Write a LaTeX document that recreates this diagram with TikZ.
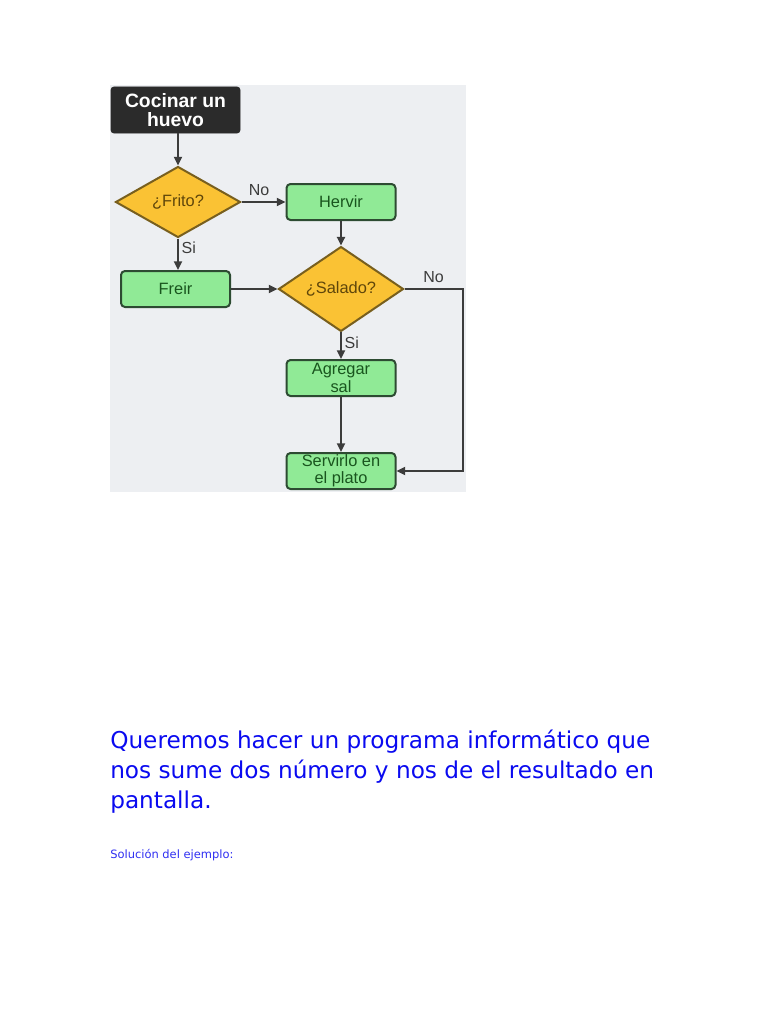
\documentclass[tikz,border=0pt]{standalone}
\definecolor{panelgray}{RGB}{237, 239, 242}
\definecolor{startblack}{RGB}{43, 43, 43}
\definecolor{stepgreen}{RGB}{144, 234, 150}
\definecolor{stepborder}{RGB}{45, 75, 50}
\definecolor{steptext}{RGB}{25, 85, 30}
\definecolor{askyellow}{RGB}{250, 194, 52}
\definecolor{askborder}{RGB}{120, 95, 30}
\definecolor{asktext}{RGB}{95, 70, 10}
\definecolor{linegray}{RGB}{60, 60, 60}
\definecolor{textblue}{RGB}{10, 10, 240}
\usepackage{fontspec}
\setmainfont{Liberation Sans}
\newfontfamily\notefont{DejaVu Sans}
\usepackage{tikz}
\usetikzlibrary{shapes.geometric, arrows.meta, positioning}

\begin{document}
\begin{tikzpicture}[x=0.75pt, y=-0.75pt,
  startbox/.style={rectangle, rounded corners=2pt, fill=startblack, draw=startblack, text=white,
    minimum width=96.75pt, minimum height=34.5pt, inner sep=1pt, align=center,
    font=\bfseries\fontsize{14.5}{14.5}\selectfont},
  stepbox/.style={rectangle, rounded corners=3pt, fill=stepgreen, draw=stepborder, line width=1.5pt,
    minimum width=81.75pt, minimum height=27pt, inner sep=1pt, align=center, text=steptext,
    font=\fontsize{12.3}{13}\selectfont},
  askbox/.style={diamond, fill=askyellow, draw=askborder, line width=1.5pt,
    minimum width=93.75pt, minimum height=53.25pt, inner sep=0pt, text=asktext,
    font=\fontsize{12.3}{13}\selectfont},
  flow/.style={draw=linegray, line width=1.5pt, -{Triangle[length=6.5pt, width=6pt]}},
  answer/.style={text=linegray, font=\fontsize{12}{12}\selectfont, inner sep=2pt}]
  \useasboundingbox (0,0) rectangle (768,1024);
  \fill[white] (0,0) rectangle (768,1024);

  % Flowchart panel
  \fill[panelgray] (110,85) rectangle (466,492);

  \node[startbox] (start) at (175.5,110) {Cocinar un\\huevo};
  \node[askbox] (frito) at (178,202) {¿Frito?};
  \node[stepbox] (hervir) at (341,202) {Hervir};
  \node[stepbox] (freir) at (175.5,289) {Freir};
  \node[askbox] (salado) at (341,289) {¿Salado?};
  \node[stepbox] (agregar) at (341,378) {Agregar\\sal};
  \node[stepbox] (servir) at (341,471) {Servirlo en\\el plato};

  % Connectors
  \draw[flow] (start.south -| frito.north) -- (frito.north);
  \draw[flow] (frito.east) -- node[answer, above, yshift=2pt, pos=0.4] {No} (hervir.west);
  \draw[flow] (frito.south) -- node[answer, right, pos=0.3] {Si} (frito.south |- freir.north);
  \draw[flow] (hervir.south) -- (salado.north);
  \draw[flow] (freir.east) -- (salado.west);
  \draw[flow] (salado.south) -- node[answer, right, pos=0.4] {Si} (agregar.north);
  \draw[flow] (agregar.south) -- (servir.north);
  \draw[flow] (salado.east) -- node[answer, above, yshift=2pt] {No} ++(58,0) |- (servir.east);

  % Text below
  \node[anchor=base west, inner sep=0pt, align=left, text=textblue,
    font=\notefont\fontsize{17.4}{22.5}\selectfont] (problema) at (110,808)
    {Queremos hacer un programa informático que\\nos sume dos número y nos de el resultado en\\pantalla.};
  \node[anchor=base west, inner sep=0pt, text=textblue!85,
    font=\notefont\fontsize{8.6}{10}\selectfont] (solucion) at (110,858) {Solución del ejemplo:};
\end{tikzpicture}
\end{document}
